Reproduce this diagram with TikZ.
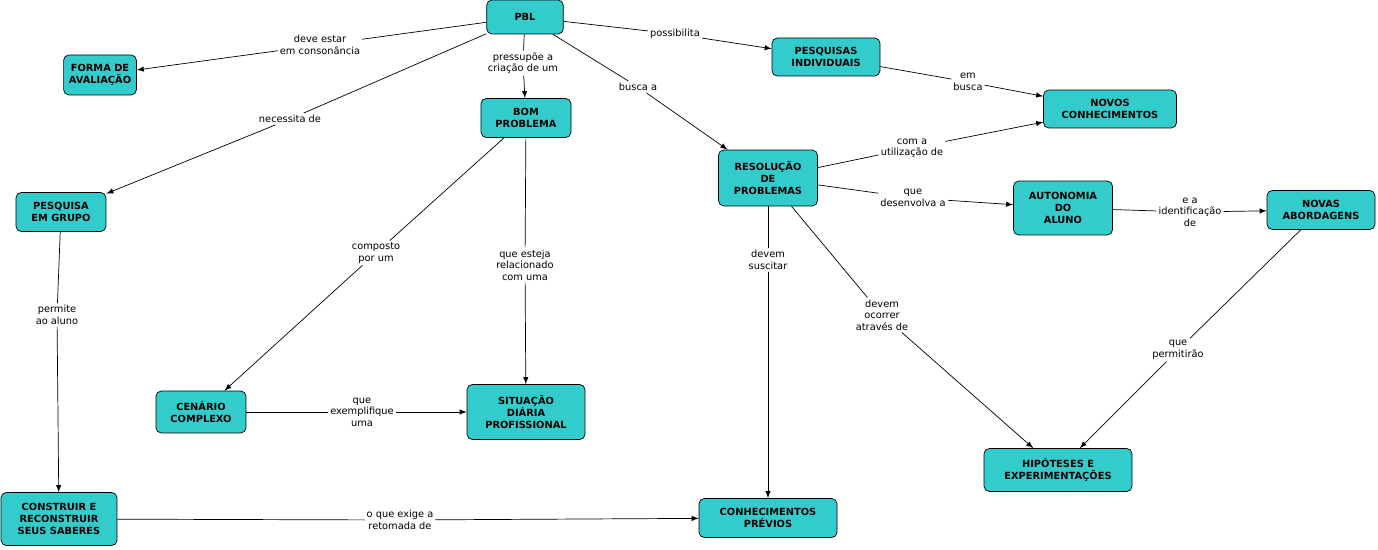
\documentclass[tikz,border=0pt]{standalone}
\usepackage{fontspec}
\setmainfont{DejaVu Sans}
\definecolor{cmapfill}{RGB}{51,204,204}
\begin{document}
\begin{tikzpicture}[x=0.02cm,y=-0.02cm,>=latex,
    concept/.style={shape=rectangle,rounded corners=3pt,draw=black,fill=cmapfill,
        font=\fontsize{5.6}{6.6}\selectfont\bfseries,align=center,inner sep=3pt},
    link/.style={font=\fontsize{5.6}{6.6}\selectfont,align=center,inner sep=1pt}]
    \useasboundingbox (0,0) rectangle (1378,550);
    \node[concept,minimum width=2.1cm*0.73,minimum height=0.68cm] (pbl) at (525,17) {PBL};
    \node[concept,minimum height=0.8cm] (aval) at (100,75) {FORMA DE\\AVALIAÇÃO};
    \node[concept,minimum width=1.8cm,minimum height=0.78cm] (bom) at (526,118) {BOM\\PROBLEMA};
    \node[concept,minimum width=2.16cm,minimum height=0.76cm] (ind) at (826,57) {PESQUISAS\\INDIVIDUAIS};
    \node[concept,minimum width=2.66cm,minimum height=0.76cm] (novos) at (1110,109) {NOVOS\\CONHECIMENTOS};
    \node[concept,minimum width=1.98cm,minimum height=1.12cm] (resol) at (768,178) {RESOLUÇÃO\\DE\\PROBLEMAS};
    \node[concept,minimum width=1.98cm,minimum height=1.08cm] (auto) at (1063,208) {AUTONOMIA\\DO\\ALUNO};
    \node[concept,minimum width=2.16cm,minimum height=0.78cm] (abord) at (1321,210) {NOVAS\\ABORDAGENS};
    \node[concept,minimum width=1.8cm,minimum height=0.78cm] (grupo) at (61,212) {PESQUISA\\EM GRUPO};
    \node[concept,minimum width=1.8cm,minimum height=0.84cm] (cena) at (201,412) {CENÁRIO\\COMPLEXO};
    \node[concept,minimum width=2.36cm,minimum height=1.1cm] (sit) at (526,412) {SITUAÇÃO\\DIÁRIA\\PROFISSIONAL};
    \node[concept,minimum width=2.96cm,minimum height=0.86cm] (hip) at (1058,470) {HIPÓTESES E\\EXPERIMENTAÇÕES};
    \node[concept,minimum width=2.32cm,minimum height=1.06cm] (saber) at (59,519) {CONSTRUIR E\\RECONSTRUIR\\SEUS SABERES};
    \node[concept,minimum width=2.76cm,minimum height=0.78cm] (prev) at (768,518) {CONHECIMENTOS\\PRÉVIOS};

    \node[link] (l1) at (320,45) {deve estar\\em consonância};
    \node[link] (l2) at (523,63) {pressupõe a\\criação de um};
    \node[link] (l3) at (290,119) {necessita de};
    \node[link] (l4) at (638,87) {busca a};
    \node[link] (l5) at (675,34) {possibilita};
    \node[link] (l6) at (968,82) {em\\busca};
    \node[link] (l7) at (912,148) {com a\\utilização de};
    \node[link] (l8) at (913,198) {que\\desenvolva a};
    \node[link] (l9) at (1190,212) {e a\\identificação\\de};
    \node[link] (l10) at (1178,350) {que\\permitirão};
    \node[link] (l11) at (882,315) {devem\\ocorrer\\através de};
    \node[link] (l12) at (768,260) {devem\\suscitar};
    \node[link] (l13) at (376,253) {composto\\por um};
    \node[link] (l14) at (525,265) {que esteja\\relacionado\\com uma};
    \node[link] (l15) at (362,412) {que\\exemplifique\\uma};
    \node[link] (l16) at (57,315) {permite\\ao aluno};
    \node[link] (l17) at (400,520) {o que exige a\\retomada de};

    \draw (pbl) -- (l1); \draw[->] (l1) -- (aval);
    \draw (pbl) -- (l2); \draw[->] (l2) -- (bom);
    \draw (pbl) -- (l3); \draw[->] (l3) -- (grupo);
    \draw (pbl) -- (l4); \draw[->] (l4) -- (resol);
    \draw (pbl) -- (l5); \draw[->] (l5) -- (ind);
    \draw (ind) -- (l6); \draw[->] (l6) -- (novos);
    \draw (resol) -- (l7); \draw[->] (l7) -- (novos);
    \draw (resol) -- (l8); \draw[->] (l8) -- (auto);
    \draw (auto) -- (l9); \draw[->] (l9) -- (abord);
    \draw (abord) -- (l10); \draw[->] (l10) -- (hip);
    \draw (resol) -- (l11); \draw[->] (l11) -- (hip);
    \draw (resol) -- (l12); \draw[->] (l12) -- (prev);
    \draw (bom) -- (l13); \draw[->] (l13) -- (cena);
    \draw (bom) -- (l14); \draw[->] (l14) -- (sit);
    \draw (cena) -- (l15); \draw[->] (l15) -- (sit);
    \draw (grupo) -- (l16); \draw[->] (l16) -- (saber);
    \draw (saber) -- (l17); \draw[->] (l17) -- (prev);
\end{tikzpicture}
\end{document}
